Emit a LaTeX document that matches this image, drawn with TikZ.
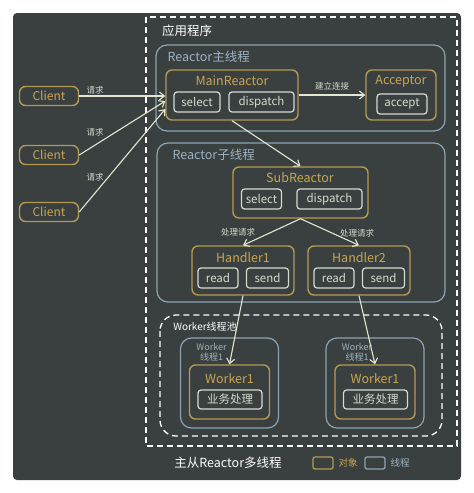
\documentclass[tikz,border=0pt]{standalone}
\usepackage{fontspec}
\setmainfont{Noto Sans CJK SC}
\usetikzlibrary{arrows.meta}
\definecolor{panelbg}{HTML}{3A3F3F}
\definecolor{gold}{HTML}{B39A52}
\definecolor{goldtxt}{HTML}{C9A654}
\definecolor{thrblue}{HTML}{8BA3B3}
\definecolor{thrtxt}{HTML}{9DB3C1}
\definecolor{itemc}{HTML}{D6DBCF}
\definecolor{arrc}{HTML}{E4E6D4}

\tikzset{
  objbox/.style={draw=gold, line width=1.4pt, rounded corners=6pt, inner sep=0pt},
  thrbox/.style={draw=thrblue, line width=1.2pt, rounded corners=11pt},
  itembox/.style={draw=itemc, line width=1.2pt, rounded corners=3pt, inner sep=0pt,
    minimum height=20pt, text=itemc, font=\fontsize{11.5}{13}\selectfont},
  title/.style={text=goldtxt, font=\fontsize{12.5}{14}\selectfont},
  small/.style={text=itemc, font=\fontsize{8.5}{10}\selectfont},
  arr/.style={draw=arrc, line width=1.1pt, -{Straight Barb[length=5pt,width=8pt]}},
}

\begin{document}
\begin{tikzpicture}[x=1pt,y=-1pt]
\useasboundingbox (0,0) rectangle (474,493);
\fill[panelbg, rounded corners=4pt] (13,13) rectangle (461,480);

% application area
\draw[white, line width=1.3pt, dash pattern=on 6pt off 4pt] (146,17) rectangle (457,446);
\node[text=white, font=\fontsize{12.5}{14}\selectfont] (app) at (187,31) {应用程序};

% main reactor thread
\draw[thrbox] (156,45) rectangle (445,131);
\node[text=thrtxt, font=\fontsize{12.5}{14}\selectfont, anchor=west] (mainlbl) at (164,57) {Reactor主线程};
\node[objbox, minimum width=132pt, minimum height=50pt] (main) at (232,95) {};
\node[title] (maint) at (232,81) {MainReactor};
\node[itembox, minimum width=46pt] (msel) at (197,102) {select};
\node[itembox, minimum width=65pt] (mdis) at (261.5,102) {dispatch};
\node[objbox, minimum width=70pt, minimum height=50pt] (acc) at (401,95) {};
\node[title] (acct) at (401,81) {Acceptor};
\node[itembox, minimum width=50pt] (accept) at (402,104) {accept};
\draw[arr] (main.east) -- (acc.west) node[small, midway, above=1pt] {建立连接};

% clients
\foreach \i/\y in {1/96,2/155,3/212}
  \node[objbox, minimum width=59pt, minimum height=19pt, text=goldtxt,
    font=\fontsize{12}{14}\selectfont] (c\i) at (49,\y) {Client};
\foreach \i/\d in {1/-1,2/-6,3/-14}
  \draw[arr] (c\i.east) -- ([yshift=\d pt]main.west);
\node[small] (q1) at (95,90) {请求};
\node[small] (q2) at (95,132) {请求};
\node[small] (q3) at (95,177) {请求};

% sub reactor thread
\draw[thrbox] (157,143) rectangle (445,302);
\node[text=thrtxt, font=\fontsize{12.5}{14}\selectfont, anchor=west] (sublbl) at (169,155) {Reactor子线程};
\node[objbox, minimum width=135pt, minimum height=51pt] (sub) at (300.5,192.5) {};
\node[title] (subt) at (300,178) {SubReactor};
\node[itembox, minimum width=40pt] (ssel) at (261.5,199) {select};
\node[itembox, minimum width=65pt] (sdis) at (329.5,199) {dispatch};
\draw[arr] (main.south) -- (sub.north);

% handlers
\foreach \i/\x in {1/243,2/359} {
  \node[objbox, minimum width=102pt, minimum height=49pt] (h\i) at (\x,270.5) {};
  \node[title] (h\i t) at (\x,258) {Handler\i};
  \node[itembox, minimum width=40pt] (h\i r) at (\x-25,278) {read};
  \node[itembox, minimum width=42pt] (h\i s) at (\x+24.5,278) {send};
  \draw[arr] (sub.south) -- (h\i.north);
}
\node[small] (p1) at (238,232) {处理请求};
\node[small] (p2) at (357,233) {处理请求};

% worker pool
\draw[white, line width=1.3pt, dash pattern=on 6pt off 4pt, rounded corners=16pt] (160,315) rectangle (442,436);
\node[text=white, font=\fontsize{10}{11}\selectfont] (pool) at (205,327) {Worker线程池};
\foreach \i/\x in {1/229.5,2/375} {
  \node[thrbox, minimum width=98pt, minimum height=90pt] (wt\i) at (\x,383) {};
  \node[text=thrtxt, font=\fontsize{9}{10}\selectfont, align=center] (wt\i l) at (\x-18,352) {Worker\\线程1};
  \node[objbox, minimum width=80pt, minimum height=54pt] (w\i) at (\x,392) {};
  \node[title] (w\i t) at (\x,379) {Worker1};
  \node[itembox, minimum width=64pt, minimum height=19pt] (biz\i) at (\x+0.5,399.5) {业务处理};
  \draw[arr] (h\i.south) -- (w\i.north);
}

% caption and legend
\node[text=white, font=\fontsize{12.5}{14}\selectfont] (cap) at (228,463) {主从Reactor多线程};
\draw[gold, line width=1.3pt, rounded corners=2pt] (313,457) rectangle (333,469);
\node[text=goldtxt, font=\fontsize{9.5}{11}\selectfont] (lg1) at (348,463) {对象};
\draw[thrblue, line width=1.3pt, rounded corners=2pt] (365,457) rectangle (385,469);
\node[text=thrtxt, font=\fontsize{9.5}{11}\selectfont] (lg2) at (400,463) {线程};
\end{tikzpicture}
\end{document}
